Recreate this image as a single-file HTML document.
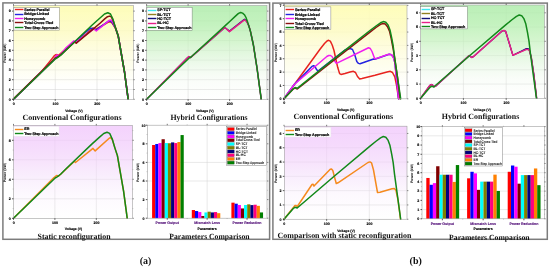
<!DOCTYPE html>
<html><head><meta charset="utf-8"><title>PV configuration comparison</title>
<style>html,body{margin:0;padding:0;background:#fff;}svg{display:block;}</style></head>
<body><svg width="550" height="268" viewBox="0 0 550 268" text-rendering="geometricPrecision">
<rect width="550" height="268" fill="#fff"/>
<defs>
<linearGradient id="gy" x1="0" y1="0" x2="0" y2="1"><stop offset="0" stop-color="#fefdb4" stop-opacity="0.92"/><stop offset="0.28" stop-color="#fdfbc2" stop-opacity="0.85"/><stop offset="0.5" stop-color="#fefcd7" stop-opacity="0.7"/><stop offset="0.65" stop-color="#fdfddd" stop-opacity="0.5"/><stop offset="0.85" stop-color="#fdfddd" stop-opacity="0.0"/></linearGradient>
<linearGradient id="gg" x1="0" y1="0" x2="0" y2="1"><stop offset="0" stop-color="#afecab" stop-opacity="0.85"/><stop offset="0.2" stop-color="#b5efaf" stop-opacity="0.8"/><stop offset="0.38" stop-color="#c2f1ba" stop-opacity="0.7"/><stop offset="0.58" stop-color="#d7f4d2" stop-opacity="0.55"/><stop offset="0.8" stop-color="#eef8eb" stop-opacity="0.3"/><stop offset="1" stop-color="#eef8eb" stop-opacity="0.0"/></linearGradient>
<linearGradient id="gp" x1="0" y1="0" x2="0" y2="1"><stop offset="0" stop-color="#f0c4fc" stop-opacity="0.75"/><stop offset="0.2" stop-color="#f1cafb" stop-opacity="0.7"/><stop offset="0.4" stop-color="#f2d2fa" stop-opacity="0.6"/><stop offset="0.55" stop-color="#f3ddfb" stop-opacity="0.5"/><stop offset="0.75" stop-color="#f8ebfc" stop-opacity="0.3"/><stop offset="1" stop-color="#f8ebfc" stop-opacity="0.0"/></linearGradient>
</defs>
<rect x="2.9" y="2.9" width="266.7" height="236.4" fill="none" stroke="#7c7c7c" stroke-width="1.5"/>
<rect x="272.9" y="3.1" width="274.4" height="236.2" fill="none" stroke="#7c7c7c" stroke-width="1.5"/>
<rect x="13.5" y="5.5" width="119.9" height="93.8" fill="#fff"/>
<line x1="13.5" y1="89.5" x2="133.4" y2="89.5" stroke="#d2d2d2" stroke-width="0.5"/>
<line x1="13.5" y1="79.7" x2="133.4" y2="79.7" stroke="#d2d2d2" stroke-width="0.5"/>
<line x1="13.5" y1="69.9" x2="133.4" y2="69.9" stroke="#d2d2d2" stroke-width="0.5"/>
<line x1="13.5" y1="60.1" x2="133.4" y2="60.1" stroke="#d2d2d2" stroke-width="0.5"/>
<line x1="13.5" y1="50.3" x2="133.4" y2="50.3" stroke="#d2d2d2" stroke-width="0.5"/>
<line x1="13.5" y1="40.5" x2="133.4" y2="40.5" stroke="#d2d2d2" stroke-width="0.5"/>
<line x1="13.5" y1="30.7" x2="133.4" y2="30.7" stroke="#d2d2d2" stroke-width="0.5"/>
<line x1="13.5" y1="20.9" x2="133.4" y2="20.9" stroke="#d2d2d2" stroke-width="0.5"/>
<line x1="13.5" y1="11.1" x2="133.4" y2="11.1" stroke="#d2d2d2" stroke-width="0.5"/>
<line x1="55.25" y1="5.5" x2="55.25" y2="99.3" stroke="#d2d2d2" stroke-width="0.5"/>
<line x1="97" y1="5.5" x2="97" y2="99.3" stroke="#d2d2d2" stroke-width="0.5"/>
<rect x="13.5" y="5.5" width="119.9" height="93.8" fill="url(#gy)"/>
<polyline points="13.5,99.3 40,73.4 52,58.6 54.5,55.6 55.8,54.7 57,54.6 58.5,55.4 74,41.8 76,42.8 93,28 95.5,29.5 108,22.3 110.4,21.8 112.5,23.5 115.7,28.5 118.3,36.3 121,52 124.5,72 128.2,99.3" fill="none" stroke="#e8231e" stroke-width="1.5" stroke-linejoin="round" stroke-linecap="round"/>
<polyline points="13.5,99.3 54,59.8 57,55.8 59,56.3 74,42.5 75.5,41.5 86,31.8 90.3,28.3 93.6,28.5 95.9,30.1 108.5,21.2 110.2,20.7 112.5,22.8 115.7,28.5 118.3,36.3 121,52 124.5,72 128.2,99.3" fill="none" stroke="#2424e0" stroke-width="1.5" stroke-linejoin="round" stroke-linecap="round"/>
<polyline points="13.5,99.3 54,59.6 56.8,55 59.5,55.9 66,47.8 73.9,40.9 75.5,42.3 94,29 96.3,31 109.5,20.2 111.2,20 113,22.5 115.7,28.5 118.3,36.3 121,52 124.5,72 128.2,99.3" fill="none" stroke="#f01ef0" stroke-width="1.5" stroke-linejoin="round" stroke-linecap="round"/>
<polyline points="13.5,98.9 55.5,57.9 57.5,57.2 61,54.6 74.9,41.8 76.3,43.2 93.1,29.2 100,23.2 105,18.6 107.5,16.7 109.5,16.1 111.3,16.9 113,20.2 115.7,28.5 118.3,36.3 121,52 124.5,72 128.2,99.3" fill="none" stroke="#8a1010" stroke-width="1.5" stroke-linejoin="round" stroke-linecap="round"/>
<polyline points="13.5,99.3 55.5,58.8 57.5,57.6 61.01,55 65.98,50.01 92.2,25.02 100.01,18 104.52,14 107.81,12.8 110.49,14 112.99,19.4 115.7,28.5 118.29,36.3 121.01,52 124.51,72 128.19,99.3" fill="none" stroke="#12891a" stroke-width="1.5" stroke-linejoin="round" stroke-linecap="round"/>
<rect x="13.5" y="5.5" width="119.9" height="93.8" fill="none" stroke="#a0a0a0" stroke-width="0.6"/>
<line x1="12" y1="99.3" x2="13.5" y2="99.3" stroke="#222" stroke-width="0.75"/>
<line x1="133.4" y1="99.3" x2="134.8" y2="99.3" stroke="#444" stroke-width="0.6"/>
<text x="9.8" y="100.6" font-size="3.6" text-anchor="middle" font-weight="bold" fill="#000" font-family="Liberation Sans, Arial, sans-serif" stroke="#000" stroke-width="0.14">0</text>
<line x1="12" y1="89.5" x2="13.5" y2="89.5" stroke="#222" stroke-width="0.75"/>
<line x1="133.4" y1="89.5" x2="134.8" y2="89.5" stroke="#444" stroke-width="0.6"/>
<text x="9.8" y="90.8" font-size="3.6" text-anchor="middle" font-weight="bold" fill="#000" font-family="Liberation Sans, Arial, sans-serif" stroke="#000" stroke-width="0.14">1</text>
<line x1="12" y1="79.7" x2="13.5" y2="79.7" stroke="#222" stroke-width="0.75"/>
<line x1="133.4" y1="79.7" x2="134.8" y2="79.7" stroke="#444" stroke-width="0.6"/>
<text x="9.8" y="81" font-size="3.6" text-anchor="middle" font-weight="bold" fill="#000" font-family="Liberation Sans, Arial, sans-serif" stroke="#000" stroke-width="0.14">2</text>
<line x1="12" y1="69.9" x2="13.5" y2="69.9" stroke="#222" stroke-width="0.75"/>
<line x1="133.4" y1="69.9" x2="134.8" y2="69.9" stroke="#444" stroke-width="0.6"/>
<text x="9.8" y="71.2" font-size="3.6" text-anchor="middle" font-weight="bold" fill="#000" font-family="Liberation Sans, Arial, sans-serif" stroke="#000" stroke-width="0.14">3</text>
<line x1="12" y1="60.1" x2="13.5" y2="60.1" stroke="#222" stroke-width="0.75"/>
<line x1="133.4" y1="60.1" x2="134.8" y2="60.1" stroke="#444" stroke-width="0.6"/>
<text x="9.8" y="61.4" font-size="3.6" text-anchor="middle" font-weight="bold" fill="#000" font-family="Liberation Sans, Arial, sans-serif" stroke="#000" stroke-width="0.14">4</text>
<line x1="12" y1="50.3" x2="13.5" y2="50.3" stroke="#222" stroke-width="0.75"/>
<line x1="133.4" y1="50.3" x2="134.8" y2="50.3" stroke="#444" stroke-width="0.6"/>
<text x="9.8" y="51.6" font-size="3.6" text-anchor="middle" font-weight="bold" fill="#000" font-family="Liberation Sans, Arial, sans-serif" stroke="#000" stroke-width="0.14">5</text>
<line x1="12" y1="40.5" x2="13.5" y2="40.5" stroke="#222" stroke-width="0.75"/>
<line x1="133.4" y1="40.5" x2="134.8" y2="40.5" stroke="#444" stroke-width="0.6"/>
<text x="9.8" y="41.8" font-size="3.6" text-anchor="middle" font-weight="bold" fill="#000" font-family="Liberation Sans, Arial, sans-serif" stroke="#000" stroke-width="0.14">6</text>
<line x1="12" y1="30.7" x2="13.5" y2="30.7" stroke="#222" stroke-width="0.75"/>
<line x1="133.4" y1="30.7" x2="134.8" y2="30.7" stroke="#444" stroke-width="0.6"/>
<text x="9.8" y="32" font-size="3.6" text-anchor="middle" font-weight="bold" fill="#000" font-family="Liberation Sans, Arial, sans-serif" stroke="#000" stroke-width="0.14">7</text>
<line x1="12" y1="20.9" x2="13.5" y2="20.9" stroke="#222" stroke-width="0.75"/>
<line x1="133.4" y1="20.9" x2="134.8" y2="20.9" stroke="#444" stroke-width="0.6"/>
<text x="9.8" y="22.2" font-size="3.6" text-anchor="middle" font-weight="bold" fill="#000" font-family="Liberation Sans, Arial, sans-serif" stroke="#000" stroke-width="0.14">8</text>
<line x1="12" y1="11.1" x2="13.5" y2="11.1" stroke="#222" stroke-width="0.75"/>
<line x1="133.4" y1="11.1" x2="134.8" y2="11.1" stroke="#444" stroke-width="0.6"/>
<text x="9.8" y="12.4" font-size="3.6" text-anchor="middle" font-weight="bold" fill="#000" font-family="Liberation Sans, Arial, sans-serif" stroke="#000" stroke-width="0.14">9</text>
<line x1="13.5" y1="99.3" x2="13.5" y2="100.8" stroke="#222" stroke-width="0.75"/>
<line x1="13.5" y1="4.1" x2="13.5" y2="5.5" stroke="#333" stroke-width="0.65"/>
<text x="13.7" y="104.9" font-size="3.6" text-anchor="middle" font-weight="bold" fill="#000" font-family="Liberation Sans, Arial, sans-serif" stroke="#000" stroke-width="0.14">0</text>
<line x1="55.25" y1="99.3" x2="55.25" y2="100.8" stroke="#222" stroke-width="0.75"/>
<line x1="55.25" y1="4.1" x2="55.25" y2="5.5" stroke="#333" stroke-width="0.65"/>
<text x="55.45" y="104.9" font-size="3.6" text-anchor="middle" font-weight="bold" fill="#000" font-family="Liberation Sans, Arial, sans-serif" stroke="#000" stroke-width="0.14">100</text>
<line x1="97" y1="99.3" x2="97" y2="100.8" stroke="#222" stroke-width="0.75"/>
<line x1="97" y1="4.1" x2="97" y2="5.5" stroke="#333" stroke-width="0.65"/>
<text x="97.2" y="104.9" font-size="3.6" text-anchor="middle" font-weight="bold" fill="#000" font-family="Liberation Sans, Arial, sans-serif" stroke="#000" stroke-width="0.14">200</text>
<text x="0" y="0" font-size="3.5" text-anchor="middle" font-weight="bold" fill="#000" font-family="Liberation Sans, Arial, sans-serif" transform="translate(5.7,53.2) rotate(-90)">Power (kW)</text>
<text x="73.95" y="111.9" font-size="3.4" text-anchor="middle" font-weight="bold" fill="#000" font-family="Liberation Sans, Arial, sans-serif" stroke="#000" stroke-width="0.14">Voltage (V)</text>
<rect x="13.9" y="7.6" width="45.5" height="22.5" fill="#fff" stroke="#666" stroke-width="0.4"/>
<line x1="14.9" y1="9.5" x2="23.4" y2="9.5" stroke="#e8231e" stroke-width="1.4"/>
<text x="24.2" y="10.9" font-size="3.7" text-anchor="start" font-weight="bold" fill="#000" font-family="Liberation Sans, Arial, sans-serif" stroke="#000" stroke-width="0.2">Series-Parallel</text>
<line x1="14.9" y1="14.5" x2="23.4" y2="14.5" stroke="#2424e0" stroke-width="1.4"/>
<text x="24.2" y="15.35" font-size="3.7" text-anchor="start" font-weight="bold" fill="#000" font-family="Liberation Sans, Arial, sans-serif" stroke="#000" stroke-width="0.2">Bridge-Linked</text>
<line x1="14.9" y1="18.5" x2="23.4" y2="18.5" stroke="#f01ef0" stroke-width="1.4"/>
<text x="24.2" y="19.8" font-size="3.7" text-anchor="start" font-weight="bold" fill="#000" font-family="Liberation Sans, Arial, sans-serif" stroke="#000" stroke-width="0.2">Honeycomb</text>
<line x1="14.9" y1="22.5" x2="23.4" y2="22.5" stroke="#8a1010" stroke-width="1.4"/>
<text x="24.2" y="24.25" font-size="3.7" text-anchor="start" font-weight="bold" fill="#000" font-family="Liberation Sans, Arial, sans-serif" stroke="#000" stroke-width="0.2">Total-Cross-Tied</text>
<line x1="14.9" y1="27.5" x2="23.4" y2="27.5" stroke="#12891a" stroke-width="1.4"/>
<text x="24.2" y="28.7" font-size="3.7" text-anchor="start" font-weight="bold" fill="#000" font-family="Liberation Sans, Arial, sans-serif" stroke="#000" stroke-width="0.2">Two-Step Approach</text>
<text x="22.4" y="120.1" font-size="8" font-weight="bold" fill="#111" font-family="Liberation Serif, Times New Roman, serif" textLength="99.2" lengthAdjust="spacingAndGlyphs">Conventional Configurations</text>
<rect x="146.6" y="5.5" width="120.4" height="93.8" fill="#fff"/>
<line x1="146.6" y1="89.5" x2="267" y2="89.5" stroke="#d2d2d2" stroke-width="0.5"/>
<line x1="146.6" y1="79.7" x2="267" y2="79.7" stroke="#d2d2d2" stroke-width="0.5"/>
<line x1="146.6" y1="69.9" x2="267" y2="69.9" stroke="#d2d2d2" stroke-width="0.5"/>
<line x1="146.6" y1="60.1" x2="267" y2="60.1" stroke="#d2d2d2" stroke-width="0.5"/>
<line x1="146.6" y1="50.3" x2="267" y2="50.3" stroke="#d2d2d2" stroke-width="0.5"/>
<line x1="146.6" y1="40.5" x2="267" y2="40.5" stroke="#d2d2d2" stroke-width="0.5"/>
<line x1="146.6" y1="30.7" x2="267" y2="30.7" stroke="#d2d2d2" stroke-width="0.5"/>
<line x1="146.6" y1="20.9" x2="267" y2="20.9" stroke="#d2d2d2" stroke-width="0.5"/>
<line x1="146.6" y1="11.1" x2="267" y2="11.1" stroke="#d2d2d2" stroke-width="0.5"/>
<line x1="188.1" y1="5.5" x2="188.1" y2="99.3" stroke="#d2d2d2" stroke-width="0.5"/>
<line x1="229.6" y1="5.5" x2="229.6" y2="99.3" stroke="#d2d2d2" stroke-width="0.5"/>
<rect x="146.6" y="5.5" width="120.4" height="93.8" fill="url(#gg)"/>
<polyline points="146.6,99.3 187,58.2 188.8,56.6 190.5,57.6 224.8,27.5 229.5,31.6 244.4,19.9 246.6,21.4 248.9,25.9 250.4,31.1 253.4,45 257,68 261.25,99.3" fill="none" stroke="#40e8f0" stroke-width="0.9" stroke-linejoin="round" stroke-linecap="round"/>
<polyline points="146.6,99.3 187,58.2 188.8,56.6 190.5,57.6 224.8,27.5 229.5,31.6 244.4,19.9 246.6,21.4 248.9,25.9 250.4,31.1 253.4,45 257,68 261.25,99.3" fill="none" stroke="#908020" stroke-width="0.9" stroke-linejoin="round" stroke-linecap="round"/>
<polyline points="146.6,99.3 187,58.2 188.8,56.6 190.5,57.6 224.8,27.5 229.5,30.9 244.4,19.2 246.6,20.7 248.9,25.9 250.4,31.1 253.4,45 257,68 261.25,99.3" fill="none" stroke="#10107a" stroke-width="1.2" stroke-linejoin="round" stroke-linecap="round"/>
<polyline points="146.6,99.3 187,58.2 188.8,56.6 190.5,57.6 224.8,27.5 229.5,31.6 244.4,19.9 246.6,21.4 248.9,25.9 250.4,31.1 253.4,45 257,68 261.25,99.3" fill="none" stroke="#e8208a" stroke-width="1.5" stroke-linejoin="round" stroke-linecap="round"/>
<polyline points="146.6,99.3 180,66.8 189.5,57.8 191,57 225,25.9 230,21.2 236,15.6 238.5,13.4 240.7,12.5 242.6,13.1 244.4,14.7 246,17.5 247.4,21.4 250.4,31.1 253.4,45 257,68 261.25,99.3" fill="none" stroke="#12891a" stroke-width="1.5" stroke-linejoin="round" stroke-linecap="round"/>
<rect x="146.6" y="5.5" width="120.4" height="93.8" fill="none" stroke="#a0a0a0" stroke-width="0.6"/>
<line x1="145.1" y1="99.3" x2="146.6" y2="99.3" stroke="#222" stroke-width="0.75"/>
<line x1="267" y1="99.3" x2="268.4" y2="99.3" stroke="#444" stroke-width="0.6"/>
<text x="142.9" y="100.6" font-size="3.6" text-anchor="middle" font-weight="bold" fill="#000" font-family="Liberation Sans, Arial, sans-serif" stroke="#000" stroke-width="0.14">0</text>
<line x1="145.1" y1="89.5" x2="146.6" y2="89.5" stroke="#222" stroke-width="0.75"/>
<line x1="267" y1="89.5" x2="268.4" y2="89.5" stroke="#444" stroke-width="0.6"/>
<text x="142.9" y="90.8" font-size="3.6" text-anchor="middle" font-weight="bold" fill="#000" font-family="Liberation Sans, Arial, sans-serif" stroke="#000" stroke-width="0.14">1</text>
<line x1="145.1" y1="79.7" x2="146.6" y2="79.7" stroke="#222" stroke-width="0.75"/>
<line x1="267" y1="79.7" x2="268.4" y2="79.7" stroke="#444" stroke-width="0.6"/>
<text x="142.9" y="81" font-size="3.6" text-anchor="middle" font-weight="bold" fill="#000" font-family="Liberation Sans, Arial, sans-serif" stroke="#000" stroke-width="0.14">2</text>
<line x1="145.1" y1="69.9" x2="146.6" y2="69.9" stroke="#222" stroke-width="0.75"/>
<line x1="267" y1="69.9" x2="268.4" y2="69.9" stroke="#444" stroke-width="0.6"/>
<text x="142.9" y="71.2" font-size="3.6" text-anchor="middle" font-weight="bold" fill="#000" font-family="Liberation Sans, Arial, sans-serif" stroke="#000" stroke-width="0.14">3</text>
<line x1="145.1" y1="60.1" x2="146.6" y2="60.1" stroke="#222" stroke-width="0.75"/>
<line x1="267" y1="60.1" x2="268.4" y2="60.1" stroke="#444" stroke-width="0.6"/>
<text x="142.9" y="61.4" font-size="3.6" text-anchor="middle" font-weight="bold" fill="#000" font-family="Liberation Sans, Arial, sans-serif" stroke="#000" stroke-width="0.14">4</text>
<line x1="145.1" y1="50.3" x2="146.6" y2="50.3" stroke="#222" stroke-width="0.75"/>
<line x1="267" y1="50.3" x2="268.4" y2="50.3" stroke="#444" stroke-width="0.6"/>
<text x="142.9" y="51.6" font-size="3.6" text-anchor="middle" font-weight="bold" fill="#000" font-family="Liberation Sans, Arial, sans-serif" stroke="#000" stroke-width="0.14">5</text>
<line x1="145.1" y1="40.5" x2="146.6" y2="40.5" stroke="#222" stroke-width="0.75"/>
<line x1="267" y1="40.5" x2="268.4" y2="40.5" stroke="#444" stroke-width="0.6"/>
<text x="142.9" y="41.8" font-size="3.6" text-anchor="middle" font-weight="bold" fill="#000" font-family="Liberation Sans, Arial, sans-serif" stroke="#000" stroke-width="0.14">6</text>
<line x1="145.1" y1="30.7" x2="146.6" y2="30.7" stroke="#222" stroke-width="0.75"/>
<line x1="267" y1="30.7" x2="268.4" y2="30.7" stroke="#444" stroke-width="0.6"/>
<text x="142.9" y="32" font-size="3.6" text-anchor="middle" font-weight="bold" fill="#000" font-family="Liberation Sans, Arial, sans-serif" stroke="#000" stroke-width="0.14">7</text>
<line x1="145.1" y1="20.9" x2="146.6" y2="20.9" stroke="#222" stroke-width="0.75"/>
<line x1="267" y1="20.9" x2="268.4" y2="20.9" stroke="#444" stroke-width="0.6"/>
<text x="142.9" y="22.2" font-size="3.6" text-anchor="middle" font-weight="bold" fill="#000" font-family="Liberation Sans, Arial, sans-serif" stroke="#000" stroke-width="0.14">8</text>
<line x1="145.1" y1="11.1" x2="146.6" y2="11.1" stroke="#222" stroke-width="0.75"/>
<line x1="267" y1="11.1" x2="268.4" y2="11.1" stroke="#444" stroke-width="0.6"/>
<text x="142.9" y="12.4" font-size="3.6" text-anchor="middle" font-weight="bold" fill="#000" font-family="Liberation Sans, Arial, sans-serif" stroke="#000" stroke-width="0.14">9</text>
<line x1="146.6" y1="99.3" x2="146.6" y2="100.8" stroke="#222" stroke-width="0.75"/>
<line x1="146.6" y1="4.1" x2="146.6" y2="5.5" stroke="#333" stroke-width="0.65"/>
<text x="146.8" y="104.9" font-size="3.6" text-anchor="middle" font-weight="bold" fill="#000" font-family="Liberation Sans, Arial, sans-serif" stroke="#000" stroke-width="0.14">0</text>
<line x1="188.1" y1="99.3" x2="188.1" y2="100.8" stroke="#222" stroke-width="0.75"/>
<line x1="188.1" y1="4.1" x2="188.1" y2="5.5" stroke="#333" stroke-width="0.65"/>
<text x="188.3" y="104.9" font-size="3.6" text-anchor="middle" font-weight="bold" fill="#000" font-family="Liberation Sans, Arial, sans-serif" stroke="#000" stroke-width="0.14">100</text>
<line x1="229.6" y1="99.3" x2="229.6" y2="100.8" stroke="#222" stroke-width="0.75"/>
<line x1="229.6" y1="4.1" x2="229.6" y2="5.5" stroke="#333" stroke-width="0.65"/>
<text x="229.8" y="104.9" font-size="3.6" text-anchor="middle" font-weight="bold" fill="#000" font-family="Liberation Sans, Arial, sans-serif" stroke="#000" stroke-width="0.14">200</text>
<text x="0" y="0" font-size="3.5" text-anchor="middle" font-weight="bold" fill="#000" font-family="Liberation Sans, Arial, sans-serif" transform="translate(138.8,53.2) rotate(-90)">Power (kW)</text>
<text x="204.8" y="111.9" font-size="3.4" text-anchor="middle" font-weight="bold" fill="#000" font-family="Liberation Sans, Arial, sans-serif" stroke="#000" stroke-width="0.14">Voltage (V)</text>
<rect x="146.9" y="7.3" width="45.2" height="22.9" fill="#fff" stroke="#666" stroke-width="0.4"/>
<line x1="147.9" y1="10.5" x2="156.4" y2="10.5" stroke="#40e8f0" stroke-width="1.4"/>
<text x="157.2" y="11.3" font-size="3.7" text-anchor="start" font-weight="bold" fill="#000" font-family="Liberation Sans, Arial, sans-serif" stroke="#000" stroke-width="0.2">SP-TCT</text>
<line x1="147.9" y1="14.5" x2="156.4" y2="14.5" stroke="#908020" stroke-width="1.4"/>
<text x="157.2" y="15.65" font-size="3.7" text-anchor="start" font-weight="bold" fill="#000" font-family="Liberation Sans, Arial, sans-serif" stroke="#000" stroke-width="0.2">BL-TCT</text>
<line x1="147.9" y1="18.5" x2="156.4" y2="18.5" stroke="#10107a" stroke-width="1.4"/>
<text x="157.2" y="20" font-size="3.7" text-anchor="start" font-weight="bold" fill="#000" font-family="Liberation Sans, Arial, sans-serif" stroke="#000" stroke-width="0.2">HC-TCT</text>
<line x1="147.9" y1="23.5" x2="156.4" y2="23.5" stroke="#e8208a" stroke-width="1.4"/>
<text x="157.2" y="24.35" font-size="3.7" text-anchor="start" font-weight="bold" fill="#000" font-family="Liberation Sans, Arial, sans-serif" stroke="#000" stroke-width="0.2">BL-HC</text>
<line x1="147.9" y1="27.5" x2="156.4" y2="27.5" stroke="#12891a" stroke-width="1.4"/>
<text x="157.2" y="28.7" font-size="3.7" text-anchor="start" font-weight="bold" fill="#000" font-family="Liberation Sans, Arial, sans-serif" stroke="#000" stroke-width="0.2">Two-Step Approach</text>
<text x="170.4" y="120.1" font-size="8" font-weight="bold" fill="#111" font-family="Liberation Serif, Times New Roman, serif" textLength="77.2" lengthAdjust="spacingAndGlyphs">Hybrid Configurations</text>
<rect x="13.5" y="125.3" width="119" height="93" fill="#fff"/>
<line x1="13.5" y1="198.8" x2="132.5" y2="198.8" stroke="#d2d2d2" stroke-width="0.5"/>
<line x1="13.5" y1="179.3" x2="132.5" y2="179.3" stroke="#d2d2d2" stroke-width="0.5"/>
<line x1="13.5" y1="159.8" x2="132.5" y2="159.8" stroke="#d2d2d2" stroke-width="0.5"/>
<line x1="13.5" y1="140.3" x2="132.5" y2="140.3" stroke="#d2d2d2" stroke-width="0.5"/>
<line x1="54.9" y1="125.3" x2="54.9" y2="218.3" stroke="#d2d2d2" stroke-width="0.5"/>
<line x1="96.3" y1="125.3" x2="96.3" y2="218.3" stroke="#d2d2d2" stroke-width="0.5"/>
<rect x="13.5" y="125.3" width="119" height="93" fill="url(#gp)"/>
<polyline points="13.5,218.3 54,177.5 56.8,175.4 58.5,176.2 74.5,161.2 75.5,162.5 93,148.4 95.2,150.9 109.5,138 110.9,137.7 112.4,139.7 114.85,147.87 117.41,155.62 120.1,171.24 123.58,191.14 127.23,218.3" fill="none" stroke="#f58a1e" stroke-width="1.5" stroke-linejoin="round" stroke-linecap="round"/>
<polyline points="13.5,218.3 55.15,178 57.14,176.81 60.61,174.23 65.54,169.26 91.54,144.4 99.28,137.41 103.75,133.44 107.02,132.24 109.67,133.44 112.16,138.81 114.85,147.87 117.41,155.62 120.1,171.24 123.58,191.14 127.23,218.3" fill="none" stroke="#12891a" stroke-width="1.5" stroke-linejoin="round" stroke-linecap="round"/>
<rect x="13.5" y="125.3" width="119" height="93" fill="none" stroke="#a0a0a0" stroke-width="0.6"/>
<line x1="12" y1="218.3" x2="13.5" y2="218.3" stroke="#222" stroke-width="0.75"/>
<line x1="132.5" y1="218.3" x2="133.9" y2="218.3" stroke="#444" stroke-width="0.6"/>
<text x="9.8" y="219.6" font-size="3.6" text-anchor="middle" font-weight="bold" fill="#000" font-family="Liberation Sans, Arial, sans-serif" stroke="#000" stroke-width="0.14">0</text>
<line x1="12" y1="198.8" x2="13.5" y2="198.8" stroke="#222" stroke-width="0.75"/>
<line x1="132.5" y1="198.8" x2="133.9" y2="198.8" stroke="#444" stroke-width="0.6"/>
<text x="9.8" y="200.1" font-size="3.6" text-anchor="middle" font-weight="bold" fill="#000" font-family="Liberation Sans, Arial, sans-serif" stroke="#000" stroke-width="0.14">2</text>
<line x1="12" y1="179.3" x2="13.5" y2="179.3" stroke="#222" stroke-width="0.75"/>
<line x1="132.5" y1="179.3" x2="133.9" y2="179.3" stroke="#444" stroke-width="0.6"/>
<text x="9.8" y="180.6" font-size="3.6" text-anchor="middle" font-weight="bold" fill="#000" font-family="Liberation Sans, Arial, sans-serif" stroke="#000" stroke-width="0.14">4</text>
<line x1="12" y1="159.8" x2="13.5" y2="159.8" stroke="#222" stroke-width="0.75"/>
<line x1="132.5" y1="159.8" x2="133.9" y2="159.8" stroke="#444" stroke-width="0.6"/>
<text x="9.8" y="161.1" font-size="3.6" text-anchor="middle" font-weight="bold" fill="#000" font-family="Liberation Sans, Arial, sans-serif" stroke="#000" stroke-width="0.14">6</text>
<line x1="12" y1="140.3" x2="13.5" y2="140.3" stroke="#222" stroke-width="0.75"/>
<line x1="132.5" y1="140.3" x2="133.9" y2="140.3" stroke="#444" stroke-width="0.6"/>
<text x="9.8" y="141.6" font-size="3.6" text-anchor="middle" font-weight="bold" fill="#000" font-family="Liberation Sans, Arial, sans-serif" stroke="#000" stroke-width="0.14">8</text>
<line x1="12.7" y1="208.55" x2="13.5" y2="208.55" stroke="#777" stroke-width="0.4"/>
<line x1="132.5" y1="208.55" x2="133.3" y2="208.55" stroke="#777" stroke-width="0.4"/>
<line x1="12.7" y1="189.05" x2="13.5" y2="189.05" stroke="#777" stroke-width="0.4"/>
<line x1="132.5" y1="189.05" x2="133.3" y2="189.05" stroke="#777" stroke-width="0.4"/>
<line x1="12.7" y1="169.55" x2="13.5" y2="169.55" stroke="#777" stroke-width="0.4"/>
<line x1="132.5" y1="169.55" x2="133.3" y2="169.55" stroke="#777" stroke-width="0.4"/>
<line x1="12.7" y1="150.05" x2="13.5" y2="150.05" stroke="#777" stroke-width="0.4"/>
<line x1="132.5" y1="150.05" x2="133.3" y2="150.05" stroke="#777" stroke-width="0.4"/>
<line x1="12.7" y1="130.55" x2="13.5" y2="130.55" stroke="#777" stroke-width="0.4"/>
<line x1="132.5" y1="130.55" x2="133.3" y2="130.55" stroke="#777" stroke-width="0.4"/>
<line x1="13.5" y1="218.3" x2="13.5" y2="219.8" stroke="#222" stroke-width="0.75"/>
<line x1="13.5" y1="123.9" x2="13.5" y2="125.3" stroke="#333" stroke-width="0.65"/>
<text x="13.7" y="223.9" font-size="3.6" text-anchor="middle" font-weight="bold" fill="#000" font-family="Liberation Sans, Arial, sans-serif" stroke="#000" stroke-width="0.14">0</text>
<line x1="54.9" y1="218.3" x2="54.9" y2="219.8" stroke="#222" stroke-width="0.75"/>
<line x1="54.9" y1="123.9" x2="54.9" y2="125.3" stroke="#333" stroke-width="0.65"/>
<text x="55.1" y="223.9" font-size="3.6" text-anchor="middle" font-weight="bold" fill="#000" font-family="Liberation Sans, Arial, sans-serif" stroke="#000" stroke-width="0.14">100</text>
<line x1="96.3" y1="218.3" x2="96.3" y2="219.8" stroke="#222" stroke-width="0.75"/>
<line x1="96.3" y1="123.9" x2="96.3" y2="125.3" stroke="#333" stroke-width="0.65"/>
<text x="96.5" y="223.9" font-size="3.6" text-anchor="middle" font-weight="bold" fill="#000" font-family="Liberation Sans, Arial, sans-serif" stroke="#000" stroke-width="0.14">200</text>
<text x="0" y="0" font-size="3.5" text-anchor="middle" font-weight="bold" fill="#000" font-family="Liberation Sans, Arial, sans-serif" transform="translate(5.7,172.6) rotate(-90)">Power (kW)</text>
<text x="73.5" y="230.3" font-size="3.4" text-anchor="middle" font-weight="bold" fill="#000" font-family="Liberation Sans, Arial, sans-serif" stroke="#000" stroke-width="0.14">Voltage (V)</text>
<rect x="13.9" y="126.4" width="45.1" height="9.8" fill="#fff" stroke="#e8e8e8" stroke-width="0.4"/>
<line x1="14.9" y1="129.5" x2="23.4" y2="129.5" stroke="#f58a1e" stroke-width="1.4"/>
<text x="24.2" y="130.4" font-size="3.7" text-anchor="start" font-weight="bold" fill="#000" font-family="Liberation Sans, Arial, sans-serif" stroke="#000" stroke-width="0.2">ER</text>
<line x1="14.9" y1="133.5" x2="23.4" y2="133.5" stroke="#12891a" stroke-width="1.4"/>
<text x="24.2" y="134.9" font-size="3.7" text-anchor="start" font-weight="bold" fill="#000" font-family="Liberation Sans, Arial, sans-serif" stroke="#000" stroke-width="0.2">Two-Step Approach</text>
<text x="37.6" y="239" font-size="8" font-weight="bold" fill="#111" font-family="Liberation Serif, Times New Roman, serif" textLength="72.9" lengthAdjust="spacingAndGlyphs">Static reconfiguration</text>
<rect x="147.3" y="125.2" width="119.7" height="93" fill="#fff"/>
<line x1="147.3" y1="181" x2="267" y2="181" stroke="#d2d2d2" stroke-width="0.5"/>
<line x1="147.3" y1="162.4" x2="267" y2="162.4" stroke="#d2d2d2" stroke-width="0.5"/>
<line x1="207.15" y1="125.2" x2="207.15" y2="218.2" stroke="#d2d2d2" stroke-width="0.5"/>
<rect x="152.1" y="145.01" width="3.21" height="73.19" fill="#ff0000"/>
<rect x="155.26" y="143.99" width="3.21" height="74.21" fill="#0000ff"/>
<rect x="158.42" y="143.06" width="3.21" height="75.14" fill="#ff00ff"/>
<rect x="161.58" y="139.24" width="3.21" height="78.96" fill="#800000"/>
<rect x="164.74" y="143.06" width="3.21" height="75.14" fill="#00ffff"/>
<rect x="167.9" y="143.24" width="3.21" height="74.96" fill="#808000"/>
<rect x="171.06" y="142.4" width="3.21" height="75.8" fill="#000080"/>
<rect x="174.22" y="143.06" width="3.21" height="75.14" fill="#ff0080"/>
<rect x="177.38" y="142.03" width="3.21" height="76.17" fill="#ff8000"/>
<rect x="180.54" y="135.06" width="3.21" height="83.14" fill="#008000"/>
<rect x="191.8" y="210.02" width="3.21" height="8.18" fill="#ff0000"/>
<rect x="194.96" y="211.04" width="3.21" height="7.16" fill="#0000ff"/>
<rect x="198.12" y="212.06" width="3.21" height="6.14" fill="#ff00ff"/>
<rect x="201.28" y="215.97" width="3.21" height="2.23" fill="#800000"/>
<rect x="204.44" y="212.43" width="3.21" height="5.77" fill="#00ffff"/>
<rect x="207.6" y="211.69" width="3.21" height="6.51" fill="#808000"/>
<rect x="210.76" y="212.43" width="3.21" height="5.77" fill="#000080"/>
<rect x="213.92" y="212.06" width="3.21" height="6.14" fill="#ff0080"/>
<rect x="217.08" y="213.18" width="3.21" height="5.02" fill="#ff8000"/>
<rect x="220.24" y="218.2" width="3.21" height="0" fill="#008000"/>
<rect x="231.4" y="202.67" width="3.21" height="15.53" fill="#ff0000"/>
<rect x="234.56" y="203.69" width="3.21" height="14.51" fill="#0000ff"/>
<rect x="237.72" y="204.99" width="3.21" height="13.21" fill="#ff00ff"/>
<rect x="240.88" y="208.44" width="3.21" height="9.76" fill="#800000"/>
<rect x="244.04" y="204.99" width="3.21" height="13.21" fill="#00ffff"/>
<rect x="247.2" y="204.34" width="3.21" height="13.86" fill="#808000"/>
<rect x="250.36" y="205.09" width="3.21" height="13.11" fill="#000080"/>
<rect x="253.52" y="204.72" width="3.21" height="13.48" fill="#ff0080"/>
<rect x="256.68" y="205.83" width="3.21" height="12.37" fill="#ff8000"/>
<rect x="259.84" y="212.43" width="3.21" height="5.77" fill="#008000"/>
<rect x="147.3" y="125.2" width="119.7" height="93" fill="none" stroke="#a0a0a0" stroke-width="0.6"/>
<line x1="145.8" y1="218.2" x2="147.3" y2="218.2" stroke="#222" stroke-width="0.75"/>
<line x1="267" y1="218.2" x2="268.4" y2="218.2" stroke="#444" stroke-width="0.6"/>
<text x="143.6" y="219.5" font-size="3.6" text-anchor="middle" font-weight="bold" fill="#000" font-family="Liberation Sans, Arial, sans-serif" stroke="#000" stroke-width="0.14">0</text>
<line x1="145.8" y1="199.6" x2="147.3" y2="199.6" stroke="#222" stroke-width="0.75"/>
<line x1="267" y1="199.6" x2="268.4" y2="199.6" stroke="#444" stroke-width="0.6"/>
<text x="143.6" y="200.9" font-size="3.6" text-anchor="middle" font-weight="bold" fill="#000" font-family="Liberation Sans, Arial, sans-serif" stroke="#000" stroke-width="0.14">2</text>
<line x1="145.8" y1="181" x2="147.3" y2="181" stroke="#222" stroke-width="0.75"/>
<line x1="267" y1="181" x2="268.4" y2="181" stroke="#444" stroke-width="0.6"/>
<text x="143.6" y="182.3" font-size="3.6" text-anchor="middle" font-weight="bold" fill="#000" font-family="Liberation Sans, Arial, sans-serif" stroke="#000" stroke-width="0.14">4</text>
<line x1="145.8" y1="162.4" x2="147.3" y2="162.4" stroke="#222" stroke-width="0.75"/>
<line x1="267" y1="162.4" x2="268.4" y2="162.4" stroke="#444" stroke-width="0.6"/>
<text x="143.6" y="163.7" font-size="3.6" text-anchor="middle" font-weight="bold" fill="#000" font-family="Liberation Sans, Arial, sans-serif" stroke="#000" stroke-width="0.14">6</text>
<line x1="145.8" y1="143.8" x2="147.3" y2="143.8" stroke="#222" stroke-width="0.75"/>
<line x1="267" y1="143.8" x2="268.4" y2="143.8" stroke="#444" stroke-width="0.6"/>
<text x="143.6" y="145.1" font-size="3.6" text-anchor="middle" font-weight="bold" fill="#000" font-family="Liberation Sans, Arial, sans-serif" stroke="#000" stroke-width="0.14">8</text>
<line x1="145.8" y1="125.2" x2="147.3" y2="125.2" stroke="#222" stroke-width="0.75"/>
<line x1="267" y1="125.2" x2="268.4" y2="125.2" stroke="#444" stroke-width="0.6"/>
<text x="143.6" y="126.5" font-size="3.6" text-anchor="middle" font-weight="bold" fill="#000" font-family="Liberation Sans, Arial, sans-serif" stroke="#000" stroke-width="0.14">10</text>
<line x1="146.5" y1="208.9" x2="147.3" y2="208.9" stroke="#777" stroke-width="0.4"/>
<line x1="267" y1="208.9" x2="267.8" y2="208.9" stroke="#777" stroke-width="0.4"/>
<line x1="146.5" y1="190.3" x2="147.3" y2="190.3" stroke="#777" stroke-width="0.4"/>
<line x1="267" y1="190.3" x2="267.8" y2="190.3" stroke="#777" stroke-width="0.4"/>
<line x1="146.5" y1="171.7" x2="147.3" y2="171.7" stroke="#777" stroke-width="0.4"/>
<line x1="267" y1="171.7" x2="267.8" y2="171.7" stroke="#777" stroke-width="0.4"/>
<line x1="146.5" y1="153.1" x2="147.3" y2="153.1" stroke="#777" stroke-width="0.4"/>
<line x1="267" y1="153.1" x2="267.8" y2="153.1" stroke="#777" stroke-width="0.4"/>
<line x1="146.5" y1="134.5" x2="147.3" y2="134.5" stroke="#777" stroke-width="0.4"/>
<line x1="267" y1="134.5" x2="267.8" y2="134.5" stroke="#777" stroke-width="0.4"/>
<line x1="167.25" y1="218.2" x2="167.25" y2="219.7" stroke="#222" stroke-width="0.75"/>
<line x1="167.25" y1="123.8" x2="167.25" y2="125.2" stroke="#333" stroke-width="0.65"/>
<line x1="207.15" y1="218.2" x2="207.15" y2="219.7" stroke="#222" stroke-width="0.75"/>
<line x1="207.15" y1="123.8" x2="207.15" y2="125.2" stroke="#333" stroke-width="0.65"/>
<line x1="247.05" y1="218.2" x2="247.05" y2="219.7" stroke="#222" stroke-width="0.75"/>
<line x1="247.05" y1="123.8" x2="247.05" y2="125.2" stroke="#333" stroke-width="0.65"/>
<line x1="187.2" y1="218.2" x2="187.2" y2="219" stroke="#777" stroke-width="0.4"/>
<line x1="187.2" y1="124.4" x2="187.2" y2="125.2" stroke="#777" stroke-width="0.4"/>
<line x1="227.1" y1="218.2" x2="227.1" y2="219" stroke="#777" stroke-width="0.4"/>
<line x1="227.1" y1="124.4" x2="227.1" y2="125.2" stroke="#777" stroke-width="0.4"/>
<text x="0" y="0" font-size="3.5" text-anchor="middle" font-weight="bold" fill="#000" font-family="Liberation Sans, Arial, sans-serif" transform="translate(138.7,172.5) rotate(-90)">Power (kW)</text>
<text x="167.25" y="224.1" font-size="3.55" text-anchor="middle" font-weight="bold" fill="#5a1a7e" font-family="Liberation Sans, Arial, sans-serif" stroke="#5a1a7e" stroke-width="0.14">Power Output</text>
<text x="207.15" y="224.1" font-size="3.55" text-anchor="middle" font-weight="bold" fill="#5a1a7e" font-family="Liberation Sans, Arial, sans-serif" stroke="#5a1a7e" stroke-width="0.14">Mismatch Loss</text>
<text x="247.05" y="224.1" font-size="3.55" text-anchor="middle" font-weight="bold" fill="#5a1a7e" font-family="Liberation Sans, Arial, sans-serif" stroke="#5a1a7e" stroke-width="0.14">Power Reduction</text>
<text x="207.15" y="230.1" font-size="3.5" text-anchor="middle" font-weight="bold" fill="#000" font-family="Liberation Sans, Arial, sans-serif" stroke="#000" stroke-width="0.14">Parameters</text>
<rect x="226.6" y="126.6" width="39.8" height="38.6" fill="#fff" stroke="#666" stroke-width="0.4"/>
<rect x="227.4" y="127.6" width="6.9" height="3.03" fill="#ff0000" stroke="#333" stroke-width="0.2"/>
<text x="235.8" y="130.3" font-size="3.75" text-anchor="start" font-weight="bold" fill="#1a1a1a" font-family="Liberation Sans, Arial, sans-serif" stroke="#1a1a1a" stroke-width="0.04" textLength="21.02" lengthAdjust="spacingAndGlyphs">Series-Parallel</text>
<rect x="227.4" y="131.33" width="6.9" height="3.03" fill="#0000ff" stroke="#333" stroke-width="0.2"/>
<text x="235.8" y="134.03" font-size="3.75" text-anchor="start" font-weight="bold" fill="#1a1a1a" font-family="Liberation Sans, Arial, sans-serif" stroke="#1a1a1a" stroke-width="0.04" textLength="20.47" lengthAdjust="spacingAndGlyphs">Bridge-Linked</text>
<rect x="227.4" y="135.06" width="6.9" height="3.03" fill="#ff00ff" stroke="#333" stroke-width="0.2"/>
<text x="235.8" y="137.76" font-size="3.75" text-anchor="start" font-weight="bold" fill="#1a1a1a" font-family="Liberation Sans, Arial, sans-serif" stroke="#1a1a1a" stroke-width="0.04" textLength="17.43" lengthAdjust="spacingAndGlyphs">Honeycomb</text>
<rect x="227.4" y="138.79" width="6.9" height="3.03" fill="#800000" stroke="#333" stroke-width="0.2"/>
<text x="235.8" y="141.49" font-size="3.75" text-anchor="start" font-weight="bold" fill="#1a1a1a" font-family="Liberation Sans, Arial, sans-serif" stroke="#1a1a1a" stroke-width="0.04" textLength="23.91" lengthAdjust="spacingAndGlyphs">Total-Cross-Tied</text>
<rect x="227.4" y="142.52" width="6.9" height="3.03" fill="#00ffff" stroke="#333" stroke-width="0.2"/>
<text x="235.8" y="145.22" font-size="3.75" text-anchor="start" font-weight="bold" fill="#1a1a1a" font-family="Liberation Sans, Arial, sans-serif" stroke="#1a1a1a" stroke-width="0.04" textLength="11.74" lengthAdjust="spacingAndGlyphs">SP-TCT</text>
<rect x="227.4" y="146.25" width="6.9" height="3.03" fill="#808000" stroke="#333" stroke-width="0.2"/>
<text x="235.8" y="148.95" font-size="3.75" text-anchor="start" font-weight="bold" fill="#1a1a1a" font-family="Liberation Sans, Arial, sans-serif" stroke="#1a1a1a" stroke-width="0.04" textLength="11.74" lengthAdjust="spacingAndGlyphs">BL-TCT</text>
<rect x="227.4" y="149.98" width="6.9" height="3.03" fill="#000080" stroke="#333" stroke-width="0.2"/>
<text x="235.8" y="152.68" font-size="3.75" text-anchor="start" font-weight="bold" fill="#1a1a1a" font-family="Liberation Sans, Arial, sans-serif" stroke="#1a1a1a" stroke-width="0.04" textLength="12.08" lengthAdjust="spacingAndGlyphs">HC-TCT</text>
<rect x="227.4" y="153.71" width="6.9" height="3.03" fill="#ff0080" stroke="#333" stroke-width="0.2"/>
<text x="235.8" y="156.41" font-size="3.75" text-anchor="start" font-weight="bold" fill="#1a1a1a" font-family="Liberation Sans, Arial, sans-serif" stroke="#1a1a1a" stroke-width="0.04" textLength="9.88" lengthAdjust="spacingAndGlyphs">BL-HC</text>
<rect x="227.4" y="157.44" width="6.9" height="3.03" fill="#ff8000" stroke="#333" stroke-width="0.2"/>
<text x="235.8" y="160.14" font-size="3.75" text-anchor="start" font-weight="bold" fill="#1a1a1a" font-family="Liberation Sans, Arial, sans-serif" stroke="#1a1a1a" stroke-width="0.04" textLength="4.64" lengthAdjust="spacingAndGlyphs">ER</text>
<rect x="227.4" y="161.17" width="6.9" height="3.03" fill="#008000" stroke="#333" stroke-width="0.2"/>
<text x="235.8" y="163.87" font-size="3.75" text-anchor="start" font-weight="bold" fill="#1a1a1a" font-family="Liberation Sans, Arial, sans-serif" stroke="#1a1a1a" stroke-width="0.04" textLength="28.42" lengthAdjust="spacingAndGlyphs">Two-Step Approach</text>
<text x="169.3" y="239.2" font-size="7.9" font-weight="bold" fill="#111" font-family="Liberation Serif, Times New Roman, serif" textLength="80.2" lengthAdjust="spacingAndGlyphs">Parameters Comparison</text>
<rect x="284.3" y="5" width="122.7" height="93.8" fill="#fff"/>
<line x1="284.3" y1="85.45" x2="407" y2="85.45" stroke="#d2d2d2" stroke-width="0.5"/>
<line x1="284.3" y1="72.1" x2="407" y2="72.1" stroke="#d2d2d2" stroke-width="0.5"/>
<line x1="284.3" y1="58.75" x2="407" y2="58.75" stroke="#d2d2d2" stroke-width="0.5"/>
<line x1="284.3" y1="45.4" x2="407" y2="45.4" stroke="#d2d2d2" stroke-width="0.5"/>
<line x1="284.3" y1="32.05" x2="407" y2="32.05" stroke="#d2d2d2" stroke-width="0.5"/>
<line x1="284.3" y1="18.7" x2="407" y2="18.7" stroke="#d2d2d2" stroke-width="0.5"/>
<line x1="326.65" y1="5" x2="326.65" y2="98.8" stroke="#d2d2d2" stroke-width="0.5"/>
<line x1="369.3" y1="5" x2="369.3" y2="98.8" stroke="#d2d2d2" stroke-width="0.5"/>
<rect x="284.3" y="5" width="122.7" height="93.8" fill="url(#gy)"/>
<polyline points="284,98.8 320,49.2 324.5,43.5 327,41 328.6,40.3 330.3,41.2 332.2,45 334,50.5 336,60 337.7,67.3 339.6,73.6 341,74.4 345,73.5 350,72 353.4,71.3 355.5,72.5 357.5,76.5 359.7,79 362,78.5 375,75.3 387,72 390.3,71.3 392.5,72.5 394.8,76.9 396.5,85 398.6,98.8" fill="none" stroke="#e8231e" stroke-width="1.5" stroke-linejoin="round" stroke-linecap="round"/>
<polyline points="284,98.8 294.2,84.5 311.9,66.4 313.5,65.8 315,66.5 316.6,69.6 318,71.2 333,59.4 345,50 348,48.9 350.5,48.6 352.5,49.5 354.5,54 356.8,61.5 358.5,63.4 360,63.8 373.6,59 374.7,59.3 389.2,54.3 391.5,54.8 393.5,57.5 394.8,62.4 396.5,78 398.6,98.8" fill="none" stroke="#2424e0" stroke-width="1.5" stroke-linejoin="round" stroke-linecap="round"/>
<polyline points="284,98.8 294.2,84.5 326.8,56.5 328.7,55.5 330.5,55.5 332,56.5 334,60 336.1,63.2 338,62.6 366,49 368.5,47.8 370.3,48.5 372,51.5 374.7,58.8 376,58.6 387,54.8 389.2,54.3 391.5,54.8 393.5,57.5 394.8,62.4 396.5,78 398.6,98.8" fill="none" stroke="#f01ef0" stroke-width="1.5" stroke-linejoin="round" stroke-linecap="round"/>
<polyline points="284,98.8 293.5,88.8 295,88 297.3,89 333,61 370,32.2 376,27.5 380.5,24.4 382.8,23.5 385.3,24.1 387.5,26.7 389.5,31.2 391.2,38.5 393,48 394.5,57 397.5,77.5 400.2,98.8" fill="none" stroke="#8a1010" stroke-width="1.5" stroke-linejoin="round" stroke-linecap="round"/>
<polyline points="284,98.8 293.51,88.6 295,87.6 296.2,87.8 297.18,88.29 333,59.6 369.98,30.5 376,26 380.52,22.8 383.29,21.6 385.81,22.2 387.98,24.89 389.99,29.99 391.69,38 393.18,46 394.51,56.6 397.49,77 400.69,98.8" fill="none" stroke="#12891a" stroke-width="1.5" stroke-linejoin="round" stroke-linecap="round"/>
<rect x="284.3" y="5" width="122.7" height="93.8" fill="none" stroke="#a0a0a0" stroke-width="0.6"/>
<line x1="282.8" y1="98.8" x2="284.3" y2="98.8" stroke="#222" stroke-width="0.75"/>
<line x1="407" y1="98.8" x2="408.4" y2="98.8" stroke="#444" stroke-width="0.6"/>
<text x="280.6" y="100.1" font-size="3.6" text-anchor="middle" font-weight="bold" fill="#000" font-family="Liberation Sans, Arial, sans-serif" stroke="#000" stroke-width="0.14">0</text>
<line x1="282.8" y1="85.45" x2="284.3" y2="85.45" stroke="#222" stroke-width="0.75"/>
<line x1="407" y1="85.45" x2="408.4" y2="85.45" stroke="#444" stroke-width="0.6"/>
<text x="280.6" y="86.75" font-size="3.6" text-anchor="middle" font-weight="bold" fill="#000" font-family="Liberation Sans, Arial, sans-serif" stroke="#000" stroke-width="0.14">1</text>
<line x1="282.8" y1="72.1" x2="284.3" y2="72.1" stroke="#222" stroke-width="0.75"/>
<line x1="407" y1="72.1" x2="408.4" y2="72.1" stroke="#444" stroke-width="0.6"/>
<text x="280.6" y="73.4" font-size="3.6" text-anchor="middle" font-weight="bold" fill="#000" font-family="Liberation Sans, Arial, sans-serif" stroke="#000" stroke-width="0.14">2</text>
<line x1="282.8" y1="58.75" x2="284.3" y2="58.75" stroke="#222" stroke-width="0.75"/>
<line x1="407" y1="58.75" x2="408.4" y2="58.75" stroke="#444" stroke-width="0.6"/>
<text x="280.6" y="60.05" font-size="3.6" text-anchor="middle" font-weight="bold" fill="#000" font-family="Liberation Sans, Arial, sans-serif" stroke="#000" stroke-width="0.14">3</text>
<line x1="282.8" y1="45.4" x2="284.3" y2="45.4" stroke="#222" stroke-width="0.75"/>
<line x1="407" y1="45.4" x2="408.4" y2="45.4" stroke="#444" stroke-width="0.6"/>
<text x="280.6" y="46.7" font-size="3.6" text-anchor="middle" font-weight="bold" fill="#000" font-family="Liberation Sans, Arial, sans-serif" stroke="#000" stroke-width="0.14">4</text>
<line x1="282.8" y1="32.05" x2="284.3" y2="32.05" stroke="#222" stroke-width="0.75"/>
<line x1="407" y1="32.05" x2="408.4" y2="32.05" stroke="#444" stroke-width="0.6"/>
<text x="280.6" y="33.35" font-size="3.6" text-anchor="middle" font-weight="bold" fill="#000" font-family="Liberation Sans, Arial, sans-serif" stroke="#000" stroke-width="0.14">5</text>
<line x1="282.8" y1="18.7" x2="284.3" y2="18.7" stroke="#222" stroke-width="0.75"/>
<line x1="407" y1="18.7" x2="408.4" y2="18.7" stroke="#444" stroke-width="0.6"/>
<text x="280.6" y="20" font-size="3.6" text-anchor="middle" font-weight="bold" fill="#000" font-family="Liberation Sans, Arial, sans-serif" stroke="#000" stroke-width="0.14">6</text>
<line x1="282.8" y1="5.35" x2="284.3" y2="5.35" stroke="#222" stroke-width="0.75"/>
<line x1="407" y1="5.35" x2="408.4" y2="5.35" stroke="#444" stroke-width="0.6"/>
<text x="280.6" y="6.65" font-size="3.6" text-anchor="middle" font-weight="bold" fill="#000" font-family="Liberation Sans, Arial, sans-serif" stroke="#000" stroke-width="0.14">7</text>
<line x1="284" y1="98.8" x2="284" y2="100.3" stroke="#222" stroke-width="0.75"/>
<line x1="284" y1="3.6" x2="284" y2="5" stroke="#333" stroke-width="0.65"/>
<text x="284.2" y="104.4" font-size="3.6" text-anchor="middle" font-weight="bold" fill="#000" font-family="Liberation Sans, Arial, sans-serif" stroke="#000" stroke-width="0.14">0</text>
<line x1="326.65" y1="98.8" x2="326.65" y2="100.3" stroke="#222" stroke-width="0.75"/>
<line x1="326.65" y1="3.6" x2="326.65" y2="5" stroke="#333" stroke-width="0.65"/>
<text x="326.85" y="104.4" font-size="3.6" text-anchor="middle" font-weight="bold" fill="#000" font-family="Liberation Sans, Arial, sans-serif" stroke="#000" stroke-width="0.14">100</text>
<line x1="369.3" y1="98.8" x2="369.3" y2="100.3" stroke="#222" stroke-width="0.75"/>
<line x1="369.3" y1="3.6" x2="369.3" y2="5" stroke="#333" stroke-width="0.65"/>
<text x="369.5" y="104.4" font-size="3.6" text-anchor="middle" font-weight="bold" fill="#000" font-family="Liberation Sans, Arial, sans-serif" stroke="#000" stroke-width="0.14">200</text>
<text x="0" y="0" font-size="3.5" text-anchor="middle" font-weight="bold" fill="#000" font-family="Liberation Sans, Arial, sans-serif" transform="translate(276.5,52.7) rotate(-90)">Power (kW)</text>
<text x="345.65" y="111" font-size="3.4" text-anchor="middle" font-weight="bold" fill="#000" font-family="Liberation Sans, Arial, sans-serif" stroke="#000" stroke-width="0.14">Voltage (V)</text>
<rect x="284.6" y="6.9" width="46.3" height="22.7" fill="#fff" stroke="#666" stroke-width="0.4"/>
<line x1="285.6" y1="9.5" x2="294.1" y2="9.5" stroke="#e8231e" stroke-width="1.4"/>
<text x="294.9" y="11" font-size="3.7" text-anchor="start" font-weight="bold" fill="#000" font-family="Liberation Sans, Arial, sans-serif" stroke="#000" stroke-width="0.2">Series-Parallel</text>
<line x1="285.6" y1="14.5" x2="294.1" y2="14.5" stroke="#2424e0" stroke-width="1.4"/>
<text x="294.9" y="15.5" font-size="3.7" text-anchor="start" font-weight="bold" fill="#000" font-family="Liberation Sans, Arial, sans-serif" stroke="#000" stroke-width="0.2">Bridge-Linked</text>
<line x1="285.6" y1="18.5" x2="294.1" y2="18.5" stroke="#f01ef0" stroke-width="1.4"/>
<text x="294.9" y="20" font-size="3.7" text-anchor="start" font-weight="bold" fill="#000" font-family="Liberation Sans, Arial, sans-serif" stroke="#000" stroke-width="0.2">Honeycomb</text>
<line x1="285.6" y1="23.5" x2="294.1" y2="23.5" stroke="#8a1010" stroke-width="1.4"/>
<text x="294.9" y="24.5" font-size="3.7" text-anchor="start" font-weight="bold" fill="#000" font-family="Liberation Sans, Arial, sans-serif" stroke="#000" stroke-width="0.2">Total-Cross-Tied</text>
<line x1="285.6" y1="27.5" x2="294.1" y2="27.5" stroke="#12891a" stroke-width="1.4"/>
<text x="294.9" y="29" font-size="3.7" text-anchor="start" font-weight="bold" fill="#000" font-family="Liberation Sans, Arial, sans-serif" stroke="#000" stroke-width="0.2">Two-Step Approach</text>
<text x="293.5" y="119.3" font-size="8" font-weight="bold" fill="#111" font-family="Liberation Serif, Times New Roman, serif" textLength="99.6" lengthAdjust="spacingAndGlyphs">Conventional Configurations</text>
<rect x="420.7" y="5" width="123.8" height="93.3" fill="#fff"/>
<line x1="420.7" y1="84.05" x2="544.5" y2="84.05" stroke="#d2d2d2" stroke-width="0.5"/>
<line x1="420.7" y1="69.8" x2="544.5" y2="69.8" stroke="#d2d2d2" stroke-width="0.5"/>
<line x1="420.7" y1="55.55" x2="544.5" y2="55.55" stroke="#d2d2d2" stroke-width="0.5"/>
<line x1="420.7" y1="41.3" x2="544.5" y2="41.3" stroke="#d2d2d2" stroke-width="0.5"/>
<line x1="420.7" y1="27.05" x2="544.5" y2="27.05" stroke="#d2d2d2" stroke-width="0.5"/>
<line x1="420.7" y1="12.8" x2="544.5" y2="12.8" stroke="#d2d2d2" stroke-width="0.5"/>
<line x1="463.4" y1="5" x2="463.4" y2="98.3" stroke="#d2d2d2" stroke-width="0.5"/>
<line x1="506.2" y1="5" x2="506.2" y2="98.3" stroke="#d2d2d2" stroke-width="0.5"/>
<rect x="420.7" y="5" width="123.8" height="93.3" fill="url(#gg)"/>
<polyline points="420.6,98.3 428.5,87.3 430,85.3 431.2,84.6 432.2,84.7 433.2,85.7 434.4,86.6 435.6,86.2 469.15,55.5 471.65,57.5 473.4,56.6 502.4,30.8 504.15,30.5 505.7,31.5 512.9,55.3 525.9,49.6 527.9,49.4 529.4,50.5 531.4,58 533.9,75 536.65,98.3" fill="none" stroke="#40e8f0" stroke-width="0.9" stroke-linejoin="round" stroke-linecap="round"/>
<polyline points="420.6,98.3 428.5,87.3 430,85.3 431.2,84.6 432.2,84.7 433.2,85.7 434.4,86.6 435.6,86.2 469.15,55.5 471.65,57.5 473.4,56.6 502.4,30.8 504.15,30.5 505.7,31.5 512.9,55.3 525.9,49.6 527.9,49.4 529.4,50.5 531.4,58 533.9,75 536.65,98.3" fill="none" stroke="#908020" stroke-width="0.9" stroke-linejoin="round" stroke-linecap="round"/>
<polyline points="420.6,98.3 428.5,87.3 430,85.3 431.2,84.6 432.2,84.7 433.2,85.7 434.4,86.6 435.6,86.2 469.15,55.5 471.65,57.5 473.4,56.6 502.4,30.8 504.15,30.5 505.7,31.5 512.9,55.3 525.9,48.7 527.9,48.5 529.4,49.9 531.4,58 533.9,75 536.65,98.3" fill="none" stroke="#10107a" stroke-width="1.2" stroke-linejoin="round" stroke-linecap="round"/>
<polyline points="420.6,98.3 428.5,87.3 430,85.3 431.2,84.6 432.2,84.7 433.2,85.7 434.4,86.6 435.6,86.2 469.15,55.5 471.65,57.5 473.4,56.6 502.4,30.8 504.15,30.5 505.7,31.5 512.9,55.3 525.9,49.6 527.9,49.4 529.4,50.5 531.4,58 533.9,75 536.65,98.3" fill="none" stroke="#e8208a" stroke-width="1.5" stroke-linejoin="round" stroke-linecap="round"/>
<polyline points="420.6,98.3 430.04,87.3 431.53,86.22 432.71,86.43 433.69,86.97 469.26,56.02 505.98,24.63 511.95,19.78 516.44,16.32 519.19,15.02 521.69,15.67 523.85,18.58 525.84,24.08 527.53,32.72 529.02,41.35 530.33,52.78 533.29,74.78 536.47,98.3" fill="none" stroke="#12891a" stroke-width="1.5" stroke-linejoin="round" stroke-linecap="round"/>
<rect x="420.7" y="5" width="123.8" height="93.3" fill="none" stroke="#a0a0a0" stroke-width="0.6"/>
<line x1="419.2" y1="98.3" x2="420.7" y2="98.3" stroke="#222" stroke-width="0.75"/>
<line x1="544.5" y1="98.3" x2="545.9" y2="98.3" stroke="#444" stroke-width="0.6"/>
<text x="417" y="99.6" font-size="3.6" text-anchor="middle" font-weight="bold" fill="#000" font-family="Liberation Sans, Arial, sans-serif" stroke="#000" stroke-width="0.14">0</text>
<line x1="419.2" y1="84.05" x2="420.7" y2="84.05" stroke="#222" stroke-width="0.75"/>
<line x1="544.5" y1="84.05" x2="545.9" y2="84.05" stroke="#444" stroke-width="0.6"/>
<text x="417" y="85.35" font-size="3.6" text-anchor="middle" font-weight="bold" fill="#000" font-family="Liberation Sans, Arial, sans-serif" stroke="#000" stroke-width="0.14">1</text>
<line x1="419.2" y1="69.8" x2="420.7" y2="69.8" stroke="#222" stroke-width="0.75"/>
<line x1="544.5" y1="69.8" x2="545.9" y2="69.8" stroke="#444" stroke-width="0.6"/>
<text x="417" y="71.1" font-size="3.6" text-anchor="middle" font-weight="bold" fill="#000" font-family="Liberation Sans, Arial, sans-serif" stroke="#000" stroke-width="0.14">2</text>
<line x1="419.2" y1="55.55" x2="420.7" y2="55.55" stroke="#222" stroke-width="0.75"/>
<line x1="544.5" y1="55.55" x2="545.9" y2="55.55" stroke="#444" stroke-width="0.6"/>
<text x="417" y="56.85" font-size="3.6" text-anchor="middle" font-weight="bold" fill="#000" font-family="Liberation Sans, Arial, sans-serif" stroke="#000" stroke-width="0.14">3</text>
<line x1="419.2" y1="41.3" x2="420.7" y2="41.3" stroke="#222" stroke-width="0.75"/>
<line x1="544.5" y1="41.3" x2="545.9" y2="41.3" stroke="#444" stroke-width="0.6"/>
<text x="417" y="42.6" font-size="3.6" text-anchor="middle" font-weight="bold" fill="#000" font-family="Liberation Sans, Arial, sans-serif" stroke="#000" stroke-width="0.14">4</text>
<line x1="419.2" y1="27.05" x2="420.7" y2="27.05" stroke="#222" stroke-width="0.75"/>
<line x1="544.5" y1="27.05" x2="545.9" y2="27.05" stroke="#444" stroke-width="0.6"/>
<text x="417" y="28.35" font-size="3.6" text-anchor="middle" font-weight="bold" fill="#000" font-family="Liberation Sans, Arial, sans-serif" stroke="#000" stroke-width="0.14">5</text>
<line x1="419.2" y1="12.8" x2="420.7" y2="12.8" stroke="#222" stroke-width="0.75"/>
<line x1="544.5" y1="12.8" x2="545.9" y2="12.8" stroke="#444" stroke-width="0.6"/>
<text x="417" y="14.1" font-size="3.6" text-anchor="middle" font-weight="bold" fill="#000" font-family="Liberation Sans, Arial, sans-serif" stroke="#000" stroke-width="0.14">6</text>
<line x1="420.6" y1="98.3" x2="420.6" y2="99.8" stroke="#222" stroke-width="0.75"/>
<line x1="420.6" y1="3.6" x2="420.6" y2="5" stroke="#333" stroke-width="0.65"/>
<text x="420.8" y="103.9" font-size="3.6" text-anchor="middle" font-weight="bold" fill="#000" font-family="Liberation Sans, Arial, sans-serif" stroke="#000" stroke-width="0.14">0</text>
<line x1="463.4" y1="98.3" x2="463.4" y2="99.8" stroke="#222" stroke-width="0.75"/>
<line x1="463.4" y1="3.6" x2="463.4" y2="5" stroke="#333" stroke-width="0.65"/>
<text x="463.6" y="103.9" font-size="3.6" text-anchor="middle" font-weight="bold" fill="#000" font-family="Liberation Sans, Arial, sans-serif" stroke="#000" stroke-width="0.14">100</text>
<line x1="506.2" y1="98.3" x2="506.2" y2="99.8" stroke="#222" stroke-width="0.75"/>
<line x1="506.2" y1="3.6" x2="506.2" y2="5" stroke="#333" stroke-width="0.65"/>
<text x="506.4" y="103.9" font-size="3.6" text-anchor="middle" font-weight="bold" fill="#000" font-family="Liberation Sans, Arial, sans-serif" stroke="#000" stroke-width="0.14">200</text>
<text x="0" y="0" font-size="3.5" text-anchor="middle" font-weight="bold" fill="#000" font-family="Liberation Sans, Arial, sans-serif" transform="translate(412.9,52.45) rotate(-90)">Power (kW)</text>
<text x="482.1" y="110.5" font-size="3.4" text-anchor="middle" font-weight="bold" fill="#000" font-family="Liberation Sans, Arial, sans-serif" stroke="#000" stroke-width="0.14">Voltage (V)</text>
<rect x="420.6" y="6.6" width="46.8" height="22.3" fill="#fff" stroke="#666" stroke-width="0.4"/>
<line x1="421.6" y1="9.5" x2="430.1" y2="9.5" stroke="#40e8f0" stroke-width="1.4"/>
<text x="430.9" y="10.4" font-size="3.7" text-anchor="start" font-weight="bold" fill="#000" font-family="Liberation Sans, Arial, sans-serif" stroke="#000" stroke-width="0.2">SP-TCT</text>
<line x1="421.6" y1="13.5" x2="430.1" y2="13.5" stroke="#908020" stroke-width="1.4"/>
<text x="430.9" y="14.85" font-size="3.7" text-anchor="start" font-weight="bold" fill="#000" font-family="Liberation Sans, Arial, sans-serif" stroke="#000" stroke-width="0.2">BL-TCT</text>
<line x1="421.6" y1="18.5" x2="430.1" y2="18.5" stroke="#10107a" stroke-width="1.4"/>
<text x="430.9" y="19.3" font-size="3.7" text-anchor="start" font-weight="bold" fill="#000" font-family="Liberation Sans, Arial, sans-serif" stroke="#000" stroke-width="0.2">HC-TCT</text>
<line x1="421.6" y1="22.5" x2="430.1" y2="22.5" stroke="#e8208a" stroke-width="1.4"/>
<text x="430.9" y="23.75" font-size="3.7" text-anchor="start" font-weight="bold" fill="#000" font-family="Liberation Sans, Arial, sans-serif" stroke="#000" stroke-width="0.2">BL-HC</text>
<line x1="421.6" y1="26.5" x2="430.1" y2="26.5" stroke="#12891a" stroke-width="1.4"/>
<text x="430.9" y="28.2" font-size="3.7" text-anchor="start" font-weight="bold" fill="#000" font-family="Liberation Sans, Arial, sans-serif" stroke="#000" stroke-width="0.2">Two-Step Approach</text>
<text x="441.8" y="119.3" font-size="8" font-weight="bold" fill="#111" font-family="Liberation Serif, Times New Roman, serif" textLength="77.5" lengthAdjust="spacingAndGlyphs">Hybrid Configurations</text>
<rect x="284.3" y="126.2" width="122.7" height="93.05" fill="#fff"/>
<line x1="284.3" y1="204.95" x2="407" y2="204.95" stroke="#d2d2d2" stroke-width="0.5"/>
<line x1="284.3" y1="190.65" x2="407" y2="190.65" stroke="#d2d2d2" stroke-width="0.5"/>
<line x1="284.3" y1="176.35" x2="407" y2="176.35" stroke="#d2d2d2" stroke-width="0.5"/>
<line x1="284.3" y1="162.05" x2="407" y2="162.05" stroke="#d2d2d2" stroke-width="0.5"/>
<line x1="284.3" y1="147.75" x2="407" y2="147.75" stroke="#d2d2d2" stroke-width="0.5"/>
<line x1="284.3" y1="133.45" x2="407" y2="133.45" stroke="#d2d2d2" stroke-width="0.5"/>
<line x1="326.65" y1="126.2" x2="326.65" y2="219.25" stroke="#d2d2d2" stroke-width="0.5"/>
<line x1="369.3" y1="126.2" x2="369.3" y2="219.25" stroke="#d2d2d2" stroke-width="0.5"/>
<rect x="284.3" y="126.2" width="122.7" height="93.05" fill="url(#gp)"/>
<polyline points="284,219.25 295,205.5 296.2,205.6 297.3,206.5 312,184.5 313,184.2 314,186.1 330.25,169.25 331.5,169 332.8,170.5 334.5,177 336.25,183.5 338,182.8 368,162.5 370,161.9 371.5,162.8 373.5,170 377.5,192.5 380,192.2 392,188.8 394.5,188.6 396,190.5 398,200 400.5,219.25" fill="none" stroke="#f58a1e" stroke-width="1.5" stroke-linejoin="round" stroke-linecap="round"/>
<polyline points="284,219.25 293.51,208.32 295,207.25 296.2,207.47 297.18,208 333,177.27 369.98,146.09 376,141.27 380.52,137.84 383.29,136.55 385.81,137.2 387.98,140.09 389.99,145.55 391.69,154.13 393.18,162.69 394.51,174.05 397.49,195.9 400.69,219.25" fill="none" stroke="#12891a" stroke-width="1.5" stroke-linejoin="round" stroke-linecap="round"/>
<rect x="284.3" y="126.2" width="122.7" height="93.05" fill="none" stroke="#a0a0a0" stroke-width="0.6"/>
<line x1="282.8" y1="219.25" x2="284.3" y2="219.25" stroke="#222" stroke-width="0.75"/>
<line x1="407" y1="219.25" x2="408.4" y2="219.25" stroke="#444" stroke-width="0.6"/>
<text x="280.6" y="220.55" font-size="3.6" text-anchor="middle" font-weight="bold" fill="#000" font-family="Liberation Sans, Arial, sans-serif" stroke="#000" stroke-width="0.14">0</text>
<line x1="282.8" y1="204.95" x2="284.3" y2="204.95" stroke="#222" stroke-width="0.75"/>
<line x1="407" y1="204.95" x2="408.4" y2="204.95" stroke="#444" stroke-width="0.6"/>
<text x="280.6" y="206.25" font-size="3.6" text-anchor="middle" font-weight="bold" fill="#000" font-family="Liberation Sans, Arial, sans-serif" stroke="#000" stroke-width="0.14">1</text>
<line x1="282.8" y1="190.65" x2="284.3" y2="190.65" stroke="#222" stroke-width="0.75"/>
<line x1="407" y1="190.65" x2="408.4" y2="190.65" stroke="#444" stroke-width="0.6"/>
<text x="280.6" y="191.95" font-size="3.6" text-anchor="middle" font-weight="bold" fill="#000" font-family="Liberation Sans, Arial, sans-serif" stroke="#000" stroke-width="0.14">2</text>
<line x1="282.8" y1="176.35" x2="284.3" y2="176.35" stroke="#222" stroke-width="0.75"/>
<line x1="407" y1="176.35" x2="408.4" y2="176.35" stroke="#444" stroke-width="0.6"/>
<text x="280.6" y="177.65" font-size="3.6" text-anchor="middle" font-weight="bold" fill="#000" font-family="Liberation Sans, Arial, sans-serif" stroke="#000" stroke-width="0.14">3</text>
<line x1="282.8" y1="162.05" x2="284.3" y2="162.05" stroke="#222" stroke-width="0.75"/>
<line x1="407" y1="162.05" x2="408.4" y2="162.05" stroke="#444" stroke-width="0.6"/>
<text x="280.6" y="163.35" font-size="3.6" text-anchor="middle" font-weight="bold" fill="#000" font-family="Liberation Sans, Arial, sans-serif" stroke="#000" stroke-width="0.14">4</text>
<line x1="282.8" y1="147.75" x2="284.3" y2="147.75" stroke="#222" stroke-width="0.75"/>
<line x1="407" y1="147.75" x2="408.4" y2="147.75" stroke="#444" stroke-width="0.6"/>
<text x="280.6" y="149.05" font-size="3.6" text-anchor="middle" font-weight="bold" fill="#000" font-family="Liberation Sans, Arial, sans-serif" stroke="#000" stroke-width="0.14">5</text>
<line x1="282.8" y1="133.45" x2="284.3" y2="133.45" stroke="#222" stroke-width="0.75"/>
<line x1="407" y1="133.45" x2="408.4" y2="133.45" stroke="#444" stroke-width="0.6"/>
<text x="280.6" y="134.75" font-size="3.6" text-anchor="middle" font-weight="bold" fill="#000" font-family="Liberation Sans, Arial, sans-serif" stroke="#000" stroke-width="0.14">6</text>
<line x1="284" y1="219.25" x2="284" y2="220.75" stroke="#222" stroke-width="0.75"/>
<line x1="284" y1="124.8" x2="284" y2="126.2" stroke="#333" stroke-width="0.65"/>
<text x="284.2" y="224.85" font-size="3.6" text-anchor="middle" font-weight="bold" fill="#000" font-family="Liberation Sans, Arial, sans-serif" stroke="#000" stroke-width="0.14">0</text>
<line x1="326.65" y1="219.25" x2="326.65" y2="220.75" stroke="#222" stroke-width="0.75"/>
<line x1="326.65" y1="124.8" x2="326.65" y2="126.2" stroke="#333" stroke-width="0.65"/>
<text x="326.85" y="224.85" font-size="3.6" text-anchor="middle" font-weight="bold" fill="#000" font-family="Liberation Sans, Arial, sans-serif" stroke="#000" stroke-width="0.14">100</text>
<line x1="369.3" y1="219.25" x2="369.3" y2="220.75" stroke="#222" stroke-width="0.75"/>
<line x1="369.3" y1="124.8" x2="369.3" y2="126.2" stroke="#333" stroke-width="0.65"/>
<text x="369.5" y="224.85" font-size="3.6" text-anchor="middle" font-weight="bold" fill="#000" font-family="Liberation Sans, Arial, sans-serif" stroke="#000" stroke-width="0.14">200</text>
<text x="0" y="0" font-size="3.5" text-anchor="middle" font-weight="bold" fill="#000" font-family="Liberation Sans, Arial, sans-serif" transform="translate(276.5,173.53) rotate(-90)">Power (kW)</text>
<text x="346.05" y="231.65" font-size="3.4" text-anchor="middle" font-weight="bold" fill="#000" font-family="Liberation Sans, Arial, sans-serif" stroke="#000" stroke-width="0.14">Voltage (V)</text>
<rect x="284.6" y="127.4" width="46.3" height="9.6" fill="#fff" stroke="#e8e8e8" stroke-width="0.4"/>
<line x1="285.6" y1="130.5" x2="294.1" y2="130.5" stroke="#f58a1e" stroke-width="1.4"/>
<text x="294.9" y="131.3" font-size="3.7" text-anchor="start" font-weight="bold" fill="#000" font-family="Liberation Sans, Arial, sans-serif" stroke="#000" stroke-width="0.2">ER</text>
<line x1="285.6" y1="134.5" x2="294.1" y2="134.5" stroke="#12891a" stroke-width="1.4"/>
<text x="294.9" y="135.8" font-size="3.7" text-anchor="start" font-weight="bold" fill="#000" font-family="Liberation Sans, Arial, sans-serif" stroke="#000" stroke-width="0.2">Two-Step Approach</text>
<text x="277.6" y="237.8" font-size="8" font-weight="bold" fill="#111" font-family="Liberation Serif, Times New Roman, serif" textLength="133.8" lengthAdjust="spacingAndGlyphs">Comparison with static reconfiguration</text>
<rect x="422" y="126.6" width="122.3" height="92.2" fill="#fff"/>
<line x1="422" y1="209.58" x2="544.3" y2="209.58" stroke="#d2d2d2" stroke-width="0.5"/>
<line x1="422" y1="191.14" x2="544.3" y2="191.14" stroke="#d2d2d2" stroke-width="0.5"/>
<line x1="422" y1="172.7" x2="544.3" y2="172.7" stroke="#d2d2d2" stroke-width="0.5"/>
<line x1="422" y1="154.26" x2="544.3" y2="154.26" stroke="#d2d2d2" stroke-width="0.5"/>
<line x1="422" y1="135.82" x2="544.3" y2="135.82" stroke="#d2d2d2" stroke-width="0.5"/>
<line x1="442.38" y1="126.6" x2="442.38" y2="218.8" stroke="#d2d2d2" stroke-width="0.5"/>
<rect x="426.3" y="177.96" width="3.33" height="40.84" fill="#ff0000"/>
<rect x="429.58" y="184.78" width="3.33" height="34.02" fill="#0000ff"/>
<rect x="432.86" y="183.12" width="3.33" height="35.68" fill="#ff00ff"/>
<rect x="436.14" y="166.25" width="3.33" height="52.55" fill="#800000"/>
<rect x="439.42" y="174.73" width="3.33" height="44.07" fill="#00ffff"/>
<rect x="442.7" y="174.73" width="3.33" height="44.07" fill="#808000"/>
<rect x="445.98" y="174.73" width="3.33" height="44.07" fill="#000080"/>
<rect x="449.26" y="174.73" width="3.33" height="44.07" fill="#ff0080"/>
<rect x="452.54" y="181.92" width="3.33" height="36.88" fill="#ff8000"/>
<rect x="455.82" y="165.05" width="3.33" height="53.75" fill="#008000"/>
<rect x="467.1" y="178.32" width="3.33" height="40.48" fill="#ff0000"/>
<rect x="470.38" y="171.78" width="3.33" height="47.02" fill="#0000ff"/>
<rect x="473.66" y="173.35" width="3.33" height="45.45" fill="#ff00ff"/>
<rect x="476.94" y="189.85" width="3.33" height="28.95" fill="#800000"/>
<rect x="480.22" y="181.64" width="3.33" height="37.16" fill="#00ffff"/>
<rect x="483.5" y="181.64" width="3.33" height="37.16" fill="#808000"/>
<rect x="486.78" y="181.64" width="3.33" height="37.16" fill="#000080"/>
<rect x="490.06" y="181.64" width="3.33" height="37.16" fill="#ff0080"/>
<rect x="493.34" y="174.64" width="3.33" height="44.16" fill="#ff8000"/>
<rect x="496.62" y="190.96" width="3.33" height="27.84" fill="#008000"/>
<rect x="507.7" y="171.78" width="3.33" height="47.02" fill="#ff0000"/>
<rect x="510.98" y="165.51" width="3.33" height="53.29" fill="#0000ff"/>
<rect x="514.26" y="166.71" width="3.33" height="52.09" fill="#ff00ff"/>
<rect x="517.54" y="183.67" width="3.33" height="35.13" fill="#800000"/>
<rect x="520.82" y="175.1" width="3.33" height="43.7" fill="#00ffff"/>
<rect x="524.1" y="175.1" width="3.33" height="43.7" fill="#808000"/>
<rect x="527.38" y="175.1" width="3.33" height="43.7" fill="#000080"/>
<rect x="530.66" y="175.1" width="3.33" height="43.7" fill="#ff0080"/>
<rect x="533.94" y="168.46" width="3.33" height="50.34" fill="#ff8000"/>
<rect x="537.22" y="185.15" width="3.33" height="33.65" fill="#008000"/>
<rect x="422" y="126.6" width="122.3" height="92.2" fill="none" stroke="#a0a0a0" stroke-width="0.6"/>
<line x1="420.5" y1="218.8" x2="422" y2="218.8" stroke="#222" stroke-width="0.75"/>
<line x1="544.3" y1="218.8" x2="545.7" y2="218.8" stroke="#444" stroke-width="0.6"/>
<text x="418.3" y="220.1" font-size="3.6" text-anchor="middle" font-weight="bold" fill="#000" font-family="Liberation Sans, Arial, sans-serif" stroke="#000" stroke-width="0.14">0</text>
<line x1="420.5" y1="209.58" x2="422" y2="209.58" stroke="#222" stroke-width="0.75"/>
<line x1="544.3" y1="209.58" x2="545.7" y2="209.58" stroke="#444" stroke-width="0.6"/>
<text x="418.3" y="210.88" font-size="3.6" text-anchor="middle" font-weight="bold" fill="#000" font-family="Liberation Sans, Arial, sans-serif" stroke="#000" stroke-width="0.14">1</text>
<line x1="420.5" y1="200.36" x2="422" y2="200.36" stroke="#222" stroke-width="0.75"/>
<line x1="544.3" y1="200.36" x2="545.7" y2="200.36" stroke="#444" stroke-width="0.6"/>
<text x="418.3" y="201.66" font-size="3.6" text-anchor="middle" font-weight="bold" fill="#000" font-family="Liberation Sans, Arial, sans-serif" stroke="#000" stroke-width="0.14">2</text>
<line x1="420.5" y1="191.14" x2="422" y2="191.14" stroke="#222" stroke-width="0.75"/>
<line x1="544.3" y1="191.14" x2="545.7" y2="191.14" stroke="#444" stroke-width="0.6"/>
<text x="418.3" y="192.44" font-size="3.6" text-anchor="middle" font-weight="bold" fill="#000" font-family="Liberation Sans, Arial, sans-serif" stroke="#000" stroke-width="0.14">3</text>
<line x1="420.5" y1="181.92" x2="422" y2="181.92" stroke="#222" stroke-width="0.75"/>
<line x1="544.3" y1="181.92" x2="545.7" y2="181.92" stroke="#444" stroke-width="0.6"/>
<text x="418.3" y="183.22" font-size="3.6" text-anchor="middle" font-weight="bold" fill="#000" font-family="Liberation Sans, Arial, sans-serif" stroke="#000" stroke-width="0.14">4</text>
<line x1="420.5" y1="172.7" x2="422" y2="172.7" stroke="#222" stroke-width="0.75"/>
<line x1="544.3" y1="172.7" x2="545.7" y2="172.7" stroke="#444" stroke-width="0.6"/>
<text x="418.3" y="174" font-size="3.6" text-anchor="middle" font-weight="bold" fill="#000" font-family="Liberation Sans, Arial, sans-serif" stroke="#000" stroke-width="0.14">5</text>
<line x1="420.5" y1="163.48" x2="422" y2="163.48" stroke="#222" stroke-width="0.75"/>
<line x1="544.3" y1="163.48" x2="545.7" y2="163.48" stroke="#444" stroke-width="0.6"/>
<text x="418.3" y="164.78" font-size="3.6" text-anchor="middle" font-weight="bold" fill="#000" font-family="Liberation Sans, Arial, sans-serif" stroke="#000" stroke-width="0.14">6</text>
<line x1="420.5" y1="154.26" x2="422" y2="154.26" stroke="#222" stroke-width="0.75"/>
<line x1="544.3" y1="154.26" x2="545.7" y2="154.26" stroke="#444" stroke-width="0.6"/>
<text x="418.3" y="155.56" font-size="3.6" text-anchor="middle" font-weight="bold" fill="#000" font-family="Liberation Sans, Arial, sans-serif" stroke="#000" stroke-width="0.14">7</text>
<line x1="420.5" y1="145.04" x2="422" y2="145.04" stroke="#222" stroke-width="0.75"/>
<line x1="544.3" y1="145.04" x2="545.7" y2="145.04" stroke="#444" stroke-width="0.6"/>
<text x="418.3" y="146.34" font-size="3.6" text-anchor="middle" font-weight="bold" fill="#000" font-family="Liberation Sans, Arial, sans-serif" stroke="#000" stroke-width="0.14">8</text>
<line x1="420.5" y1="135.82" x2="422" y2="135.82" stroke="#222" stroke-width="0.75"/>
<line x1="544.3" y1="135.82" x2="545.7" y2="135.82" stroke="#444" stroke-width="0.6"/>
<text x="418.3" y="137.12" font-size="3.6" text-anchor="middle" font-weight="bold" fill="#000" font-family="Liberation Sans, Arial, sans-serif" stroke="#000" stroke-width="0.14">9</text>
<line x1="420.5" y1="126.6" x2="422" y2="126.6" stroke="#222" stroke-width="0.75"/>
<line x1="544.3" y1="126.6" x2="545.7" y2="126.6" stroke="#444" stroke-width="0.6"/>
<text x="418.3" y="127.9" font-size="3.6" text-anchor="middle" font-weight="bold" fill="#000" font-family="Liberation Sans, Arial, sans-serif" stroke="#000" stroke-width="0.14">10</text>
<line x1="421.2" y1="214.19" x2="422" y2="214.19" stroke="#777" stroke-width="0.4"/>
<line x1="544.3" y1="214.19" x2="545.1" y2="214.19" stroke="#777" stroke-width="0.4"/>
<line x1="421.2" y1="204.97" x2="422" y2="204.97" stroke="#777" stroke-width="0.4"/>
<line x1="544.3" y1="204.97" x2="545.1" y2="204.97" stroke="#777" stroke-width="0.4"/>
<line x1="421.2" y1="195.75" x2="422" y2="195.75" stroke="#777" stroke-width="0.4"/>
<line x1="544.3" y1="195.75" x2="545.1" y2="195.75" stroke="#777" stroke-width="0.4"/>
<line x1="421.2" y1="186.53" x2="422" y2="186.53" stroke="#777" stroke-width="0.4"/>
<line x1="544.3" y1="186.53" x2="545.1" y2="186.53" stroke="#777" stroke-width="0.4"/>
<line x1="421.2" y1="177.31" x2="422" y2="177.31" stroke="#777" stroke-width="0.4"/>
<line x1="544.3" y1="177.31" x2="545.1" y2="177.31" stroke="#777" stroke-width="0.4"/>
<line x1="421.2" y1="168.09" x2="422" y2="168.09" stroke="#777" stroke-width="0.4"/>
<line x1="544.3" y1="168.09" x2="545.1" y2="168.09" stroke="#777" stroke-width="0.4"/>
<line x1="421.2" y1="158.87" x2="422" y2="158.87" stroke="#777" stroke-width="0.4"/>
<line x1="544.3" y1="158.87" x2="545.1" y2="158.87" stroke="#777" stroke-width="0.4"/>
<line x1="421.2" y1="149.65" x2="422" y2="149.65" stroke="#777" stroke-width="0.4"/>
<line x1="544.3" y1="149.65" x2="545.1" y2="149.65" stroke="#777" stroke-width="0.4"/>
<line x1="421.2" y1="140.43" x2="422" y2="140.43" stroke="#777" stroke-width="0.4"/>
<line x1="544.3" y1="140.43" x2="545.1" y2="140.43" stroke="#777" stroke-width="0.4"/>
<line x1="421.2" y1="131.21" x2="422" y2="131.21" stroke="#777" stroke-width="0.4"/>
<line x1="544.3" y1="131.21" x2="545.1" y2="131.21" stroke="#777" stroke-width="0.4"/>
<line x1="442.38" y1="218.8" x2="442.38" y2="220.3" stroke="#222" stroke-width="0.75"/>
<line x1="442.38" y1="125.2" x2="442.38" y2="126.6" stroke="#333" stroke-width="0.65"/>
<line x1="483.15" y1="218.8" x2="483.15" y2="220.3" stroke="#222" stroke-width="0.75"/>
<line x1="483.15" y1="125.2" x2="483.15" y2="126.6" stroke="#333" stroke-width="0.65"/>
<line x1="523.92" y1="218.8" x2="523.92" y2="220.3" stroke="#222" stroke-width="0.75"/>
<line x1="523.92" y1="125.2" x2="523.92" y2="126.6" stroke="#333" stroke-width="0.65"/>
<line x1="462.77" y1="218.8" x2="462.77" y2="219.6" stroke="#777" stroke-width="0.4"/>
<line x1="462.77" y1="125.8" x2="462.77" y2="126.6" stroke="#777" stroke-width="0.4"/>
<line x1="503.53" y1="218.8" x2="503.53" y2="219.6" stroke="#777" stroke-width="0.4"/>
<line x1="503.53" y1="125.8" x2="503.53" y2="126.6" stroke="#777" stroke-width="0.4"/>
<text x="0" y="0" font-size="3.5" text-anchor="middle" font-weight="bold" fill="#000" font-family="Liberation Sans, Arial, sans-serif" transform="translate(413.2,173.5) rotate(-90)">Power (kW)</text>
<text x="442.38" y="224.9" font-size="3.55" text-anchor="middle" font-weight="bold" fill="#5a1a7e" font-family="Liberation Sans, Arial, sans-serif" stroke="#5a1a7e" stroke-width="0.14">Power Output</text>
<text x="483.15" y="224.9" font-size="3.55" text-anchor="middle" font-weight="bold" fill="#5a1a7e" font-family="Liberation Sans, Arial, sans-serif" stroke="#5a1a7e" stroke-width="0.14">Mismatch Loss</text>
<text x="523.92" y="224.9" font-size="3.55" text-anchor="middle" font-weight="bold" fill="#5a1a7e" font-family="Liberation Sans, Arial, sans-serif" stroke="#5a1a7e" stroke-width="0.14">Power Reduction</text>
<text x="483.15" y="230.3" font-size="3.5" text-anchor="middle" font-weight="bold" fill="#000" font-family="Liberation Sans, Arial, sans-serif" stroke="#000" stroke-width="0.14">Parameters</text>
<rect x="464.3" y="127.4" width="38.2" height="38.6" fill="#fff" stroke="#666" stroke-width="0.4"/>
<rect x="465.1" y="128.8" width="6.9" height="3" fill="#ff0000" stroke="#333" stroke-width="0.2"/>
<text x="473.5" y="131.5" font-size="3.75" text-anchor="start" font-weight="bold" fill="#1a1a1a" font-family="Liberation Sans, Arial, sans-serif" stroke="#1a1a1a" stroke-width="0.04" textLength="21.02" lengthAdjust="spacingAndGlyphs">Series-Parallel</text>
<rect x="465.1" y="132.5" width="6.9" height="3" fill="#0000ff" stroke="#333" stroke-width="0.2"/>
<text x="473.5" y="135.2" font-size="3.75" text-anchor="start" font-weight="bold" fill="#1a1a1a" font-family="Liberation Sans, Arial, sans-serif" stroke="#1a1a1a" stroke-width="0.04" textLength="20.47" lengthAdjust="spacingAndGlyphs">Bridge-Linked</text>
<rect x="465.1" y="136.2" width="6.9" height="3" fill="#ff00ff" stroke="#333" stroke-width="0.2"/>
<text x="473.5" y="138.9" font-size="3.75" text-anchor="start" font-weight="bold" fill="#1a1a1a" font-family="Liberation Sans, Arial, sans-serif" stroke="#1a1a1a" stroke-width="0.04" textLength="17.43" lengthAdjust="spacingAndGlyphs">Honeycomb</text>
<rect x="465.1" y="139.9" width="6.9" height="3" fill="#800000" stroke="#333" stroke-width="0.2"/>
<text x="473.5" y="142.6" font-size="3.75" text-anchor="start" font-weight="bold" fill="#1a1a1a" font-family="Liberation Sans, Arial, sans-serif" stroke="#1a1a1a" stroke-width="0.04" textLength="23.91" lengthAdjust="spacingAndGlyphs">Total-Cross-Tied</text>
<rect x="465.1" y="143.6" width="6.9" height="3" fill="#00ffff" stroke="#333" stroke-width="0.2"/>
<text x="473.5" y="146.3" font-size="3.75" text-anchor="start" font-weight="bold" fill="#1a1a1a" font-family="Liberation Sans, Arial, sans-serif" stroke="#1a1a1a" stroke-width="0.04" textLength="11.74" lengthAdjust="spacingAndGlyphs">SP-TCT</text>
<rect x="465.1" y="147.3" width="6.9" height="3" fill="#808000" stroke="#333" stroke-width="0.2"/>
<text x="473.5" y="150" font-size="3.75" text-anchor="start" font-weight="bold" fill="#1a1a1a" font-family="Liberation Sans, Arial, sans-serif" stroke="#1a1a1a" stroke-width="0.04" textLength="11.74" lengthAdjust="spacingAndGlyphs">BL-TCT</text>
<rect x="465.1" y="151" width="6.9" height="3" fill="#000080" stroke="#333" stroke-width="0.2"/>
<text x="473.5" y="153.7" font-size="3.75" text-anchor="start" font-weight="bold" fill="#1a1a1a" font-family="Liberation Sans, Arial, sans-serif" stroke="#1a1a1a" stroke-width="0.04" textLength="12.08" lengthAdjust="spacingAndGlyphs">HC-TCT</text>
<rect x="465.1" y="154.7" width="6.9" height="3" fill="#ff0080" stroke="#333" stroke-width="0.2"/>
<text x="473.5" y="157.4" font-size="3.75" text-anchor="start" font-weight="bold" fill="#1a1a1a" font-family="Liberation Sans, Arial, sans-serif" stroke="#1a1a1a" stroke-width="0.04" textLength="9.88" lengthAdjust="spacingAndGlyphs">BL-HC</text>
<rect x="465.1" y="158.4" width="6.9" height="3" fill="#ff8000" stroke="#333" stroke-width="0.2"/>
<text x="473.5" y="161.1" font-size="3.75" text-anchor="start" font-weight="bold" fill="#1a1a1a" font-family="Liberation Sans, Arial, sans-serif" stroke="#1a1a1a" stroke-width="0.04" textLength="4.64" lengthAdjust="spacingAndGlyphs">ER</text>
<rect x="465.1" y="162.1" width="6.9" height="3" fill="#008000" stroke="#333" stroke-width="0.2"/>
<text x="473.5" y="164.8" font-size="3.75" text-anchor="start" font-weight="bold" fill="#1a1a1a" font-family="Liberation Sans, Arial, sans-serif" stroke="#1a1a1a" stroke-width="0.04" textLength="28.42" lengthAdjust="spacingAndGlyphs">Two-Step Approach</text>
<text x="449.1" y="239.5" font-size="7.9" font-weight="bold" fill="#111" font-family="Liberation Serif, Times New Roman, serif" textLength="80.5" lengthAdjust="spacingAndGlyphs">Parameters Comparison</text>
<text x="145.6" y="264.1" font-size="10" text-anchor="middle" font-weight="bold" fill="#111" font-family="Liberation Serif, Times New Roman, serif">(a)</text>
<text x="415.7" y="264.1" font-size="10" text-anchor="middle" font-weight="bold" fill="#111" font-family="Liberation Serif, Times New Roman, serif">(b)</text>
</svg></body></html>
